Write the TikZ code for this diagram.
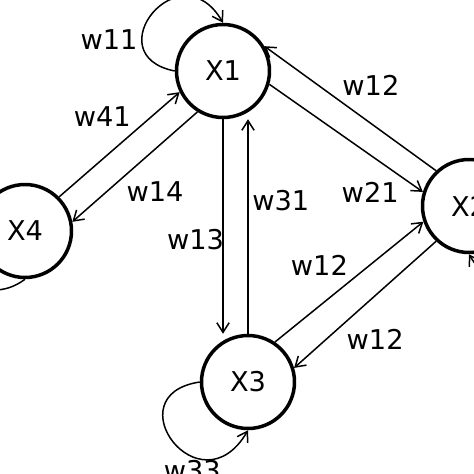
\documentclass[tikz,border=0pt]{standalone}
\usepackage{fontspec}
\setmainfont{DejaVu Sans}
\usepackage{tikz}
\usetikzlibrary{positioning,arrows,arrows.meta}

\begin{document}
\begin{tikzpicture}[x=0.02cm,y=-0.02cm,font=\fontsize{15.5pt}{18pt}\selectfont]
      \tikzstyle{var}=[circle,draw,line width=.07cm,minimum size=1.86cm,inner sep=0pt]
      \tikzstyle{wt}=[inner sep=2pt]
      \tikzstyle{ln}=[-{Straight Barb[length=5.5pt,width=7pt]},line width=.03cm]
      \useasboundingbox (0,0) rectangle (474,474);
      \node[var] (x1) at (223,71) {X1};
      \node[var] (x2) at (469,206) {X2};
      \node[var] (x3) at (248,382) {X3};
      \node[var] (x4) at (25,231) {X4};

      \draw[ln] (x4.45) -- (x1.206) node[wt, pos=0.63, anchor=south east]{w41};
      \draw[ln] (x1.238) -- (x4.11) node[wt, pos=0.6, anchor=north west]{w14};
      \draw[ln] (x1.south) -- (x1.south |- x3.north) node[wt, pos=0.56, anchor=east, xshift=3pt]{w13};
      \draw[ln] (x3.north) -- (x3.north |- x1.south) node[wt, pos=0.62, anchor=west]{w31};
      \draw[ln] (x2.133) -- (x1.31) node[wt, pos=0.57, anchor=south west]{w12};
      \draw[ln] (x1.344) -- (x2.163) node[wt, pos=0.87, anchor=north east]{w21};
      \draw[ln] (x3.56) -- (x2.199) node[wt, pos=0.52, anchor=south east]{w12};
      \draw[ln] (x2.227) -- (x3.17) node[wt, pos=0.66, anchor=north west]{w12};

      % self loops
      \draw[ln] (x1.west) .. controls +(-80,-16) and +(-43,-74) .. (x1.north) node[wt, pos=0.3, anchor=east]{w11};
      \draw[ln] (x3.west) .. controls +(-87,13) and +(-48,82) .. (x3.south) node[wt, pos=0.65, anchor=north]{w33};
      \draw[ln] (x2.east) .. controls +(87,13) and +(48,82) .. (x2.south);
      \draw[ln] (x4.south) .. controls +(-40,30) and +(-40,40) .. (x4.west);
\end{tikzpicture}
\end{document}
